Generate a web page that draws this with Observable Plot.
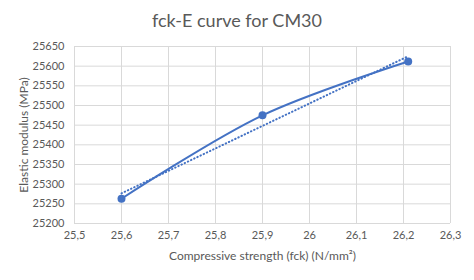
<!DOCTYPE html>
<html>
<head>
<meta charset="utf-8">
<script src="https://cdn.jsdelivr.net/npm/d3@7"></script>
<script src="https://cdn.jsdelivr.net/npm/@observablehq/plot@0.6"></script>
<style>
  html, body { margin: 0; padding: 0; background: #fff; }
  #chart { width: 474px; height: 280px; font-family: Lato, "Open Sans", sans-serif; }
  #title { height: 32px; line-height: 41px; text-align: center; font-size: 18px; color: #595959; font-weight: 400; }
</style>
</head>
<body>
<div id="chart">
  <div id="title">fck-E curve for CM30</div>
</div>
<script>
// Compressive strength (N/mm²) and measured elastic modulus (MPa)
const fck = [25.6, 25.9, 26.21];
const modulus = [25263, 25475, 25612];

// Axis ticks
const xTicks = [25.5, 25.6, 25.7, 25.8, 25.9, 26.0, 26.1, 26.2, 26.3];
const xTickLabels = ["25,5", "25,6", "25,7", "25,8", "25,9", "26", "26,1", "26,2", "26,3"];
const yTicks = [25200, 25250, 25300, 25350, 25400, 25450, 25500, 25550, 25600, 25650];

const data = fck.map((x, i) => ({x, y: modulus[i]}));
const blue = "#4472C4";

const plot = Plot.plot({
  width: 474,
  height: 248,
  marginTop: 14,
  marginBottom: 57,
  marginLeft: 74,
  marginRight: 24,
  style: {fontFamily: "Lato, 'Open Sans', sans-serif", fontSize: "11px", color: "#595959"},
  x: {domain: [25.5, 26.3]},
  y: {domain: [25200, 25650]},
  marks: [
    Plot.gridX(xTicks, {stroke: "#d9d9d9", strokeOpacity: 1}),
    Plot.gridY(yTicks, {stroke: "#d9d9d9", strokeOpacity: 1}),
    Plot.axisX(xTicks, {
      tickSize: 0, tickPadding: 8,
      tickFormat: (d, i) => xTickLabels[i],
      label: null,
      fontSize: 11
    }),
    Plot.axisX({
      ticks: [], tickSize: 0,
      label: "Compressive strength (fck) (N/mm²)",
      labelAnchor: "center", labelArrow: "none", labelOffset: 36,
      fontSize: 12
    }),
    Plot.axisY(yTicks, {
      tickSize: 0, tickPadding: 10,
      tickFormat: d => String(d),
      label: null,
      fontSize: 11
    }),
    Plot.axisY({
      ticks: [], tickSize: 0,
      label: "Elastic modulus (MPa)",
      labelAnchor: "center", labelArrow: "none", labelOffset: 55,
      fontSize: 12
    }),
    // linear trend through the three measurements
    Plot.linearRegressionY(data, {x: "x", y: "y", ci: 0, stroke: blue, strokeWidth: 2, strokeDasharray: "0.5,3", strokeLinecap: "round"}),
    // smoothed curve and markers
    Plot.line(data, {x: "x", y: "y", curve: "catmull-rom", stroke: blue, strokeWidth: 2}),
    Plot.dot(data, {x: "x", y: "y", r: 4, fill: blue})
  ]
});

document.getElementById("chart").appendChild(plot);
</script>
</body>
</html>
